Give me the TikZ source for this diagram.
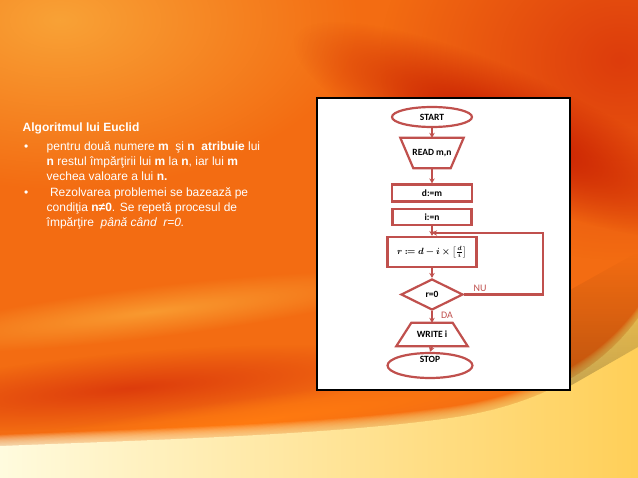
\documentclass[tikz,border=0pt]{standalone}
\usepackage{amsmath,mathtools,bm}
\usepackage{fontspec}
\setmainfont{Liberation Sans}
\newfontfamily\calibri{Carlito}
\usetikzlibrary{shapes.geometric,arrows.meta,fadings}
\definecolor{fcred}{HTML}{C0504D}
\definecolor{bgbase}{HTML}{F36C12}
\definecolor{bglight}{HTML}{F9A236}
\definecolor{bgredor}{HTML}{DD3C0C}
\definecolor{bgred}{HTML}{C41800}
\definecolor{bgband}{HTML}{FF7A10}
\definecolor{bgstreak}{HTML}{F99A30}
\definecolor{creamL}{HTML}{FFFBDE}
\definecolor{creamR}{HTML}{FFCF58}
\pgfdeclareradialshading{softblobsh}{\pgfpointorigin}{color(0bp)=(pgftransparent!0); color(25bp)=(pgftransparent!100); color(50bp)=(pgftransparent!100)}
\pgfdeclarefading{softblob}{\pgfuseshading{softblobsh}}
\tikzfading[name=fadetop, top color=transparent!100, bottom color=transparent!0]
\newcommand{\bgblob}[7]{%
  \begin{scope}[transform canvas={rotate around={#5:(#1,#2)}}]
    \fill[#6, path fading=#7] (#1,#2) ellipse (#3 and #4);
  \end{scope}}
\newcommand{\creampath}{(0,478) -- (0,446) .. controls (150,440) and (330,435) .. (450,418) .. controls (540,405) and (600,370) .. (638,318) -- (638,478) -- cycle}
\tikzset{
  fc/.style={draw=fcred, line width=2.2pt},
  fctext/.style={font=\calibri\bfseries\fontsize{9.5}{10}\selectfont, text=black},
  arr/.style={draw=fcred, line width=2.2pt, -{Stealth[length=5pt,width=5.5pt]}, fcred},
  lbl/.style={font=\calibri\fontsize{10}{11}\selectfont, text=fcred, inner sep=0},
  slide/.style={font=\fontsize{12}{14}\selectfont, text=white, anchor=base west, inner sep=0},
}
\begin{document}
\begin{tikzpicture}[x=1pt,y=-1pt]
\useasboundingbox (0,0) rectangle (638,478);
\clip (0,0) rectangle (638,478);
% background
\fill[bgbase] (0,0) rectangle (638,478);
\bgblob{60}{20}{300}{170}{0}{bglight}{softblob}
\bgblob{620}{60}{240}{200}{0}{bgredor}{softblob}
\bgblob{505}{130}{230}{60}{-24}{bgred}{softblob}
\bgblob{150}{312}{260}{26}{7}{bgstreak}{softblob}
\bgblob{130}{388}{280}{36}{5}{bgredor}{softblob}
\bgblob{260}{420}{360}{24}{8}{bgband}{softblob}
\shade[left color=creamL, right color=creamR] \creampath;
\foreach \s in {1,2,...,14}{%
  \shade[left color=creamL, right color=creamR, opacity=0.09, yshift=0.8*\s pt] \creampath;}
% frame shadow (visible on the light background only)
\fill[black, opacity=0.22, path fading=fadetop] (570,290) -- (638,252) -- (638,347) -- (570,386) -- cycle;
% frame
\fill[white] (317,98) rectangle (570,390);
\draw[black, line width=2.5pt] (317,98) rectangle (570,390);
% left text
\node[slide, font=\fontsize{12}{14}\selectfont\bfseries] (t1) at (22.5,131.5) {Algoritmul lui Euclid};
\node[slide] (b1) at (24,151) {•};
\node[slide] (t2) at (46.5,151) {pentru două numere \textbf{m}\ \ şi \textbf{n}\ \ \textbf{atribuie} lui};
\node[slide] (t3) at (46.5,166) {\textbf{n} restul împărţirii lui \textbf{m} la \textbf{n}, iar lui \textbf{m}};
\node[slide] (t4) at (46.5,181) {vechea valoare a lui \textbf{n.}};
\node[slide] (b2) at (24,197) {•};
\node[slide] (t5) at (46.5,197) {\ Rezolvarea problemei se bazează pe};
\node[slide] (t6) at (46.5,212) {condiţia \textbf{n≠0}. Se repetă procesul de};
\node[slide] (t7) at (46.5,227) {împărţire\ \ \textit{până când\ \ r=0.}};
% flowchart
\node[fc, ellipse, minimum width=80pt, minimum height=20pt, inner sep=0, fctext] (start) at (432,117) {START};
\node[fctext, minimum width=63pt, minimum height=30pt, inner sep=0] (read) at (432,153) {READ m,n};
\draw[fc] (read.north west) -- (read.north east) -- ([xshift=-13pt]read.south east) -- ([xshift=13pt]read.south west) -- cycle;
\node[fc, fctext, minimum width=80pt, minimum height=17pt, inner sep=0] (dm) at (432,193) {d:=m};
\node[fc, fctext, minimum width=79pt, minimum height=16pt, inner sep=0] (in) at (432,217) {i:=n};
\node[fc, minimum width=89pt, minimum height=30pt, inner sep=0, font=\fontsize{9}{10}\selectfont] (rb) at (432,252) {$\bm{r \coloneqq d - i \times \left[\frac{d}{i}\right]}$};
\node[fc, diamond, minimum width=62pt, minimum height=31pt, inner sep=0, fctext] (cond) at (432,294.5) {r=0};
\node[fctext, minimum width=71pt, minimum height=23pt, inner sep=0] (write) at (432,334.5) {WRITE i};
\draw[fc] ([xshift=15pt]write.north west) -- ([xshift=-15pt]write.north east) -- (write.south east) -- (write.south west) -- cycle;
\node[fc, ellipse, minimum width=85pt, minimum height=25pt, inner sep=0] (stop) at (430,365.5) {};
\node[fctext, inner sep=0] (stoptext) at ([yshift=6pt]stop.center) {STOP};
\coordinate (loopA) at (543,294.5);
\coordinate (loopB) at (543,233);
\coordinate (join) at (432,233);
\draw[arr] (start) -- (read);
\draw[arr] (read) -- (dm);
\draw[arr] (in) -- (rb);
\draw[arr] (cond.east) -- (loopA) -- (loopB) -- (join);
\draw[arr] (rb) -- (cond);
\draw[arr] (cond) -- (write);
\draw[arr] (write.south) -- (stop.north);
\node[lbl] (nu) at (480,288) {NU};
\node[lbl] (da) at (447,315) {DA};
\end{tikzpicture}
\end{document}
